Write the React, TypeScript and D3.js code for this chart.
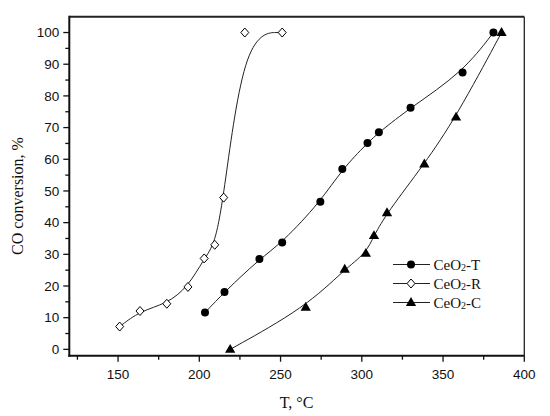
import * as d3 from 'd3';

// CO conversion vs temperature
const rTemp = [151, 163.5, 180, 193, 203, 209.5, 215, 228, 251];
const rConv = [7.2, 12.1, 14.4, 19.7, 28.7, 33.0, 47.9, 100, 100];
const tTemp = [203.5, 215.5, 237, 251, 274.5, 288, 303.5, 310.5, 330, 362, 381];
const tConv = [11.6, 18.1, 28.5, 33.7, 46.6, 56.9, 65.1, 68.5, 76.3, 87.4, 100];
const cTemp = [219, 265.5, 289.5, 302.5, 307.5, 315.5, 338.5, 358, 386];
const cConv = [0, 13.3, 25.3, 30.3, 35.9, 43.1, 58.5, 73.3, 100];

const xMajor = [150, 200, 250, 300, 350, 400];
const xMinor = [125, 175, 225, 275, 325, 375];
const yMajor = [0, 10, 20, 30, 40, 50, 60, 70, 80, 90, 100];
const yMinor = [5, 15, 25, 35, 45, 55, 65, 75, 85, 95];

const legendNames = ['T', 'R', 'C'];

const W = 550;
const H = 416;
const LEFT = 69.3;
const RIGHT = 524.3;
const TOP = 16.7;
const BOTTOM = 355.7;

const SANS = '"Liberation Sans", Arial, sans-serif';
const SERIF = '"Liberation Serif", "Times New Roman", serif';

const x = d3.scaleLinear().domain([120, 400]).range([LEFT, RIGHT]);
const y = d3.scaleLinear().domain([-2, 105]).range([BOTTOM, TOP]);

const zip = (a: number[], b: number[]) => a.map((v, i) => [v, b[i]] as [number, number]);

// B-spline style connection, like the original plot
const lineBasis = d3.line<[number, number]>()
    .x(d => x(d[0]))
    .y(d => y(d[1]))
    .curve(d3.curveBasis);

const triangle = d3.symbol().type(d3.symbolTriangle).size(46)() as string;
const DIAMOND = 'M0,-4.5L4,0L0,4.5L-4,0Z';

const Marker = ({ kind, cx, cy }: any) => {
    if (kind === 'T') {
        return <circle cx={cx} cy={cy} r={4} fill="#000" />;
    }
    if (kind === 'R') {
        return <path d={DIAMOND} transform={`translate(${cx},${cy})`} fill="#fff" stroke="#000" strokeWidth={1} />;
    }
    return <path d={triangle} transform={`translate(${cx},${cy + 0.5})`} fill="#000" />;
};

export default function App() {
    const rData = zip(rTemp, rConv);
    const tData = zip(tTemp, tConv);
    const cData = zip(cTemp, cConv);

    return (
        <svg width={W} height={H} style={{ position: 'absolute', left: 0, top: 0, background: '#fff' }}>
            {/* curves */}
            <path d={lineBasis(rData) as string} fill="none" stroke="#222" strokeWidth={1} />
            <path d={lineBasis(tData) as string} fill="none" stroke="#222" strokeWidth={1} />
            <path d={lineBasis(cData) as string} fill="none" stroke="#222" strokeWidth={1} />

            {rData.map((d, i) => <Marker key={'r' + i} kind="R" cx={x(d[0])} cy={y(d[1])} />)}
            {tData.map((d, i) => <Marker key={'t' + i} kind="T" cx={x(d[0])} cy={y(d[1])} />)}
            {cData.map((d, i) => <Marker key={'c' + i} kind="C" cx={x(d[0])} cy={y(d[1])} />)}

            {/* frame */}
            <line x1={LEFT} x2={RIGHT} y1={TOP} y2={TOP} stroke="#222" strokeWidth={2} />
            <line x1={RIGHT} x2={RIGHT} y1={TOP} y2={BOTTOM} stroke="#222" strokeWidth={1.3} />
            <line x1={LEFT} x2={LEFT} y1={TOP - 1} y2={BOTTOM + 1} stroke="#111" strokeWidth={2} />
            <line x1={LEFT - 1} x2={RIGHT} y1={BOTTOM} y2={BOTTOM} stroke="#111" strokeWidth={2} />

            {/* x axis */}
            {xMajor.map(v => (
                <g key={'xm' + v}>
                    <line x1={x(v)} x2={x(v)} y1={BOTTOM} y2={BOTTOM + 6} stroke="#111" strokeWidth={1.3} />
                    <text x={x(v)} y={378.5} textAnchor="middle" fontFamily={SANS} fontSize={13.5} fill="#111">{v}</text>
                </g>
            ))}
            {xMinor.map(v => (
                <line key={'xn' + v} x1={x(v)} x2={x(v)} y1={BOTTOM} y2={BOTTOM + 4} stroke="#111" strokeWidth={1.3} />
            ))}

            {/* y axis */}
            {yMajor.map(v => (
                <g key={'ym' + v}>
                    <line x1={LEFT - 6} x2={LEFT} y1={y(v)} y2={y(v)} stroke="#111" strokeWidth={1.3} />
                    <text x={LEFT - 10} y={y(v) + 4.7} textAnchor="end" fontFamily={SANS} fontSize={13.5} fill="#111">{v}</text>
                </g>
            ))}
            {yMinor.map(v => (
                <line key={'yn' + v} x1={LEFT - 4} x2={LEFT} y1={y(v)} y2={y(v)} stroke="#111" strokeWidth={1.3} />
            ))}

            {/* axis titles */}
            <text x={296.5} y={407.5} textAnchor="middle" fontFamily={SERIF} fontSize={16} fill="#111">T, °C</text>
            <text transform="translate(22.5,196) rotate(-90)" textAnchor="middle" fontFamily={SERIF} fontSize={16} fill="#111">CO conversion, %</text>

            {/* legend */}
            {legendNames.map((n, i) => {
                const ly = 264.5 + i * 19;
                return (
                    <g key={'lg' + n}>
                        <line x1={393} x2={430} y1={ly} y2={ly} stroke="#222" strokeWidth={1} />
                        <Marker kind={n} cx={411} cy={ly} />
                        <text x={433.5} y={ly + 5} fontFamily={SERIF} fontSize={15} fill="#111">
                            <tspan>CeO</tspan>
                            <tspan fontSize={10} dy={1}>2</tspan>
                            <tspan dy={-1}>-{n}</tspan>
                        </text>
                    </g>
                );
            })}
        </svg>
    );
}
